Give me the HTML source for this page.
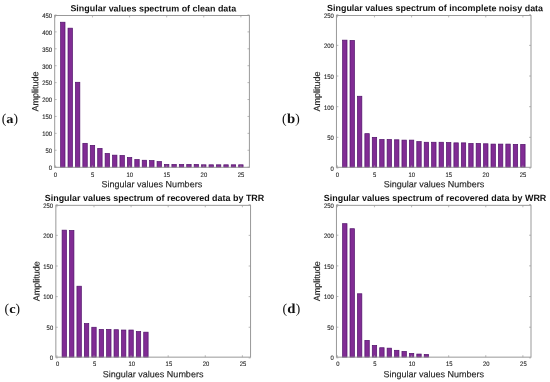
<!DOCTYPE html><html><head><meta charset="utf-8"><title>Singular values spectrum</title><style>html,body{margin:0;padding:0;background:#fff}svg{display:block}text{font-family:"Liberation Sans",Arial,sans-serif;text-rendering:geometricPrecision}.t{font-weight:bold;font-size:8.95px;fill:#111}.l{font-size:9.0px;fill:#262626;stroke:#262626;stroke-width:0.15px}.k{font-size:6.4px;fill:#262626;stroke:#262626;stroke-width:0.12px}.s{font-family:"Liberation Serif","DejaVu Serif",serif;font-size:12.5px;fill:#111}</style></head><body>
<svg width="550" height="382" viewBox="0 0 550 382">
<rect width="550" height="382" fill="#fff"/>
<rect x="60.60" y="22.22" width="4.40" height="145.08" fill="#812c94" stroke="#50126a" stroke-width="0.7"/>
<rect x="68.02" y="28.17" width="4.40" height="139.13" fill="#812c94" stroke="#50126a" stroke-width="0.7"/>
<rect x="75.44" y="82.28" width="4.40" height="85.02" fill="#812c94" stroke="#50126a" stroke-width="0.7"/>
<rect x="82.86" y="143.33" width="4.40" height="23.97" fill="#812c94" stroke="#50126a" stroke-width="0.7"/>
<rect x="90.28" y="145.36" width="4.40" height="21.94" fill="#812c94" stroke="#50126a" stroke-width="0.7"/>
<rect x="97.70" y="148.40" width="4.40" height="18.90" fill="#812c94" stroke="#50126a" stroke-width="0.7"/>
<rect x="105.12" y="153.47" width="4.40" height="13.83" fill="#812c94" stroke="#50126a" stroke-width="0.7"/>
<rect x="112.54" y="155.16" width="4.40" height="12.14" fill="#812c94" stroke="#50126a" stroke-width="0.7"/>
<rect x="119.96" y="155.50" width="4.40" height="11.80" fill="#812c94" stroke="#50126a" stroke-width="0.7"/>
<rect x="127.38" y="157.53" width="4.40" height="9.77" fill="#812c94" stroke="#50126a" stroke-width="0.7"/>
<rect x="134.80" y="159.56" width="4.40" height="7.74" fill="#812c94" stroke="#50126a" stroke-width="0.7"/>
<rect x="142.22" y="160.24" width="4.40" height="7.06" fill="#812c94" stroke="#50126a" stroke-width="0.7"/>
<rect x="149.64" y="160.58" width="4.40" height="6.72" fill="#812c94" stroke="#50126a" stroke-width="0.7"/>
<rect x="157.06" y="161.59" width="4.40" height="5.71" fill="#812c94" stroke="#50126a" stroke-width="0.7"/>
<rect x="164.48" y="164.46" width="4.40" height="2.84" fill="#812c94" stroke="#50126a" stroke-width="0.7"/>
<rect x="171.90" y="164.46" width="4.40" height="2.84" fill="#812c94" stroke="#50126a" stroke-width="0.7"/>
<rect x="179.32" y="164.46" width="4.40" height="2.84" fill="#812c94" stroke="#50126a" stroke-width="0.7"/>
<rect x="186.74" y="164.46" width="4.40" height="2.84" fill="#812c94" stroke="#50126a" stroke-width="0.7"/>
<rect x="194.16" y="164.46" width="4.40" height="2.84" fill="#812c94" stroke="#50126a" stroke-width="0.7"/>
<rect x="201.58" y="164.80" width="4.40" height="2.50" fill="#812c94" stroke="#50126a" stroke-width="0.7"/>
<rect x="209.00" y="164.80" width="4.40" height="2.50" fill="#812c94" stroke="#50126a" stroke-width="0.7"/>
<rect x="216.42" y="164.80" width="4.40" height="2.50" fill="#812c94" stroke="#50126a" stroke-width="0.7"/>
<rect x="223.84" y="164.80" width="4.40" height="2.50" fill="#812c94" stroke="#50126a" stroke-width="0.7"/>
<rect x="231.26" y="164.80" width="4.40" height="2.50" fill="#812c94" stroke="#50126a" stroke-width="0.7"/>
<rect x="238.68" y="164.80" width="4.40" height="2.50" fill="#812c94" stroke="#50126a" stroke-width="0.7"/>
<rect x="54.70" y="15.50" width="194.70" height="151.80" fill="none" stroke="#999" stroke-width="1"/>
<path d="M55.38 167.30v-1.9M55.38 15.50v1.9" stroke="#999" stroke-width="0.7"/>
<text class="k" transform="translate(55.48 176.60) rotate(0.03) scale(0.92 1)" text-anchor="middle">0</text>
<path d="M92.48 167.30v-1.9M92.48 15.50v1.9" stroke="#999" stroke-width="0.7"/>
<text class="k" transform="translate(92.58 176.60) rotate(0.03) scale(0.92 1)" text-anchor="middle">5</text>
<path d="M129.58 167.30v-1.9M129.58 15.50v1.9" stroke="#999" stroke-width="0.7"/>
<text class="k" transform="translate(129.68 176.60) rotate(0.03) scale(0.92 1)" text-anchor="middle">10</text>
<path d="M166.68 167.30v-1.9M166.68 15.50v1.9" stroke="#999" stroke-width="0.7"/>
<text class="k" transform="translate(166.78 176.60) rotate(0.03) scale(0.92 1)" text-anchor="middle">15</text>
<path d="M203.78 167.30v-1.9M203.78 15.50v1.9" stroke="#999" stroke-width="0.7"/>
<text class="k" transform="translate(203.88 176.60) rotate(0.03) scale(0.92 1)" text-anchor="middle">20</text>
<path d="M240.88 167.30v-1.9M240.88 15.50v1.9" stroke="#999" stroke-width="0.7"/>
<text class="k" transform="translate(240.98 176.60) rotate(0.03) scale(0.92 1)" text-anchor="middle">25</text>
<path d="M54.70 167.17h1.9M249.40 167.17h-1.9" stroke="#999" stroke-width="0.7"/>
<text class="k" transform="translate(52.00 170.02) rotate(0.03) scale(0.92 1)" text-anchor="end">0</text>
<path d="M54.70 150.26h1.9M249.40 150.26h-1.9" stroke="#999" stroke-width="0.7"/>
<text class="k" transform="translate(52.00 153.11) rotate(0.03) scale(0.92 1)" text-anchor="end">50</text>
<path d="M54.70 133.35h1.9M249.40 133.35h-1.9" stroke="#999" stroke-width="0.7"/>
<text class="k" transform="translate(52.00 136.20) rotate(0.03) scale(0.92 1)" text-anchor="end">100</text>
<path d="M54.70 116.44h1.9M249.40 116.44h-1.9" stroke="#999" stroke-width="0.7"/>
<text class="k" transform="translate(52.00 119.29) rotate(0.03) scale(0.92 1)" text-anchor="end">150</text>
<path d="M54.70 99.53h1.9M249.40 99.53h-1.9" stroke="#999" stroke-width="0.7"/>
<text class="k" transform="translate(52.00 102.38) rotate(0.03) scale(0.92 1)" text-anchor="end">200</text>
<path d="M54.70 82.62h1.9M249.40 82.62h-1.9" stroke="#999" stroke-width="0.7"/>
<text class="k" transform="translate(52.00 85.47) rotate(0.03) scale(0.92 1)" text-anchor="end">250</text>
<path d="M54.70 65.71h1.9M249.40 65.71h-1.9" stroke="#999" stroke-width="0.7"/>
<text class="k" transform="translate(52.00 68.56) rotate(0.03) scale(0.92 1)" text-anchor="end">300</text>
<path d="M54.70 48.80h1.9M249.40 48.80h-1.9" stroke="#999" stroke-width="0.7"/>
<text class="k" transform="translate(52.00 51.65) rotate(0.03) scale(0.92 1)" text-anchor="end">350</text>
<path d="M54.70 31.89h1.9M249.40 31.89h-1.9" stroke="#999" stroke-width="0.7"/>
<text class="k" transform="translate(52.00 34.74) rotate(0.03) scale(0.92 1)" text-anchor="end">400</text>
<path d="M54.70 14.98h1.9M249.40 14.98h-1.9" stroke="#999" stroke-width="0.7"/>
<text class="k" transform="translate(52.00 18.25) rotate(0.03) scale(0.92 1)" text-anchor="end">450</text>
<text class="t" transform="translate(153.35 11.40) rotate(0.03)" text-anchor="middle">Singular values spectrum of clean data</text>
<text class="l" transform="translate(151.85 187.20) rotate(0.03)" text-anchor="middle">Singular values Numbers</text>
<text class="l" transform="translate(38.30 91.40) rotate(-90.03)" text-anchor="middle">Amplitude</text>
<text class="s" style="font-size:13.6px" x="3.96" y="122.65" text-anchor="middle">(</text>
<text class="s" style="font-weight:bold" transform="translate(9.96 122.80) scale(1.15 1.0)" text-anchor="middle">a</text>
<text class="s" style="font-size:13.6px" x="15.68" y="122.65" text-anchor="middle">)</text>
<rect x="342.60" y="40.15" width="4.40" height="127.15" fill="#812c94" stroke="#50126a" stroke-width="0.7"/>
<rect x="350.02" y="40.45" width="4.40" height="126.85" fill="#812c94" stroke="#50126a" stroke-width="0.7"/>
<rect x="357.44" y="96.26" width="4.40" height="71.04" fill="#812c94" stroke="#50126a" stroke-width="0.7"/>
<rect x="364.86" y="133.66" width="4.40" height="33.64" fill="#812c94" stroke="#50126a" stroke-width="0.7"/>
<rect x="372.28" y="137.34" width="4.40" height="29.96" fill="#812c94" stroke="#50126a" stroke-width="0.7"/>
<rect x="379.70" y="139.49" width="4.40" height="27.81" fill="#812c94" stroke="#50126a" stroke-width="0.7"/>
<rect x="387.12" y="139.49" width="4.40" height="27.81" fill="#812c94" stroke="#50126a" stroke-width="0.7"/>
<rect x="394.54" y="139.79" width="4.40" height="27.51" fill="#812c94" stroke="#50126a" stroke-width="0.7"/>
<rect x="401.96" y="140.10" width="4.40" height="27.20" fill="#812c94" stroke="#50126a" stroke-width="0.7"/>
<rect x="409.38" y="140.10" width="4.40" height="27.20" fill="#812c94" stroke="#50126a" stroke-width="0.7"/>
<rect x="416.80" y="141.63" width="4.40" height="25.67" fill="#812c94" stroke="#50126a" stroke-width="0.7"/>
<rect x="424.22" y="142.25" width="4.40" height="25.05" fill="#812c94" stroke="#50126a" stroke-width="0.7"/>
<rect x="431.64" y="142.25" width="4.40" height="25.05" fill="#812c94" stroke="#50126a" stroke-width="0.7"/>
<rect x="439.06" y="142.25" width="4.40" height="25.05" fill="#812c94" stroke="#50126a" stroke-width="0.7"/>
<rect x="446.48" y="142.55" width="4.40" height="24.75" fill="#812c94" stroke="#50126a" stroke-width="0.7"/>
<rect x="453.90" y="142.86" width="4.40" height="24.44" fill="#812c94" stroke="#50126a" stroke-width="0.7"/>
<rect x="461.32" y="142.86" width="4.40" height="24.44" fill="#812c94" stroke="#50126a" stroke-width="0.7"/>
<rect x="468.74" y="143.47" width="4.40" height="23.83" fill="#812c94" stroke="#50126a" stroke-width="0.7"/>
<rect x="476.16" y="143.47" width="4.40" height="23.83" fill="#812c94" stroke="#50126a" stroke-width="0.7"/>
<rect x="483.58" y="143.78" width="4.40" height="23.52" fill="#812c94" stroke="#50126a" stroke-width="0.7"/>
<rect x="491.00" y="144.09" width="4.40" height="23.21" fill="#812c94" stroke="#50126a" stroke-width="0.7"/>
<rect x="498.42" y="144.09" width="4.40" height="23.21" fill="#812c94" stroke="#50126a" stroke-width="0.7"/>
<rect x="505.84" y="144.09" width="4.40" height="23.21" fill="#812c94" stroke="#50126a" stroke-width="0.7"/>
<rect x="513.26" y="144.39" width="4.40" height="22.91" fill="#812c94" stroke="#50126a" stroke-width="0.7"/>
<rect x="520.68" y="144.39" width="4.40" height="22.91" fill="#812c94" stroke="#50126a" stroke-width="0.7"/>
<rect x="336.45" y="15.50" width="194.55" height="151.80" fill="none" stroke="#999" stroke-width="1"/>
<path d="M337.38 167.30v-1.9M337.38 15.50v1.9" stroke="#999" stroke-width="0.7"/>
<text class="k" transform="translate(337.48 176.60) rotate(0.03) scale(0.92 1)" text-anchor="middle">0</text>
<path d="M374.48 167.30v-1.9M374.48 15.50v1.9" stroke="#999" stroke-width="0.7"/>
<text class="k" transform="translate(374.58 176.60) rotate(0.03) scale(0.92 1)" text-anchor="middle">5</text>
<path d="M411.58 167.30v-1.9M411.58 15.50v1.9" stroke="#999" stroke-width="0.7"/>
<text class="k" transform="translate(411.68 176.60) rotate(0.03) scale(0.92 1)" text-anchor="middle">10</text>
<path d="M448.68 167.30v-1.9M448.68 15.50v1.9" stroke="#999" stroke-width="0.7"/>
<text class="k" transform="translate(448.78 176.60) rotate(0.03) scale(0.92 1)" text-anchor="middle">15</text>
<path d="M485.78 167.30v-1.9M485.78 15.50v1.9" stroke="#999" stroke-width="0.7"/>
<text class="k" transform="translate(485.88 176.60) rotate(0.03) scale(0.92 1)" text-anchor="middle">20</text>
<path d="M522.88 167.30v-1.9M522.88 15.50v1.9" stroke="#999" stroke-width="0.7"/>
<text class="k" transform="translate(522.98 176.60) rotate(0.03) scale(0.92 1)" text-anchor="middle">25</text>
<path d="M336.45 168.00h1.9M531.00 168.00h-1.9" stroke="#999" stroke-width="0.7"/>
<text class="k" transform="translate(333.75 170.65) rotate(0.03) scale(0.92 1)" text-anchor="end">0</text>
<path d="M336.45 137.34h1.9M531.00 137.34h-1.9" stroke="#999" stroke-width="0.7"/>
<text class="k" transform="translate(333.75 140.19) rotate(0.03) scale(0.92 1)" text-anchor="end">50</text>
<path d="M336.45 106.68h1.9M531.00 106.68h-1.9" stroke="#999" stroke-width="0.7"/>
<text class="k" transform="translate(333.75 109.53) rotate(0.03) scale(0.92 1)" text-anchor="end">100</text>
<path d="M336.45 76.02h1.9M531.00 76.02h-1.9" stroke="#999" stroke-width="0.7"/>
<text class="k" transform="translate(333.75 78.87) rotate(0.03) scale(0.92 1)" text-anchor="end">150</text>
<path d="M336.45 45.36h1.9M531.00 45.36h-1.9" stroke="#999" stroke-width="0.7"/>
<text class="k" transform="translate(333.75 48.21) rotate(0.03) scale(0.92 1)" text-anchor="end">200</text>
<path d="M336.45 14.70h1.9M531.00 14.70h-1.9" stroke="#999" stroke-width="0.7"/>
<text class="k" transform="translate(333.75 18.25) rotate(0.03) scale(0.92 1)" text-anchor="end">250</text>
<text class="t" transform="translate(435.03 11.10) rotate(0.03)" text-anchor="middle">Singular values spectrum of incomplete noisy data</text>
<text class="l" transform="translate(433.93 187.20) rotate(0.03)" text-anchor="middle">Singular values Numbers</text>
<text class="l" transform="translate(320.05 91.40) rotate(-90.03)" text-anchor="middle">Amplitude</text>
<text class="s" style="font-size:13.6px" x="284.32" y="122.65" text-anchor="middle">(</text>
<text class="s" style="font-weight:bold" transform="translate(291.00 122.80) scale(1.18 1.1)" text-anchor="middle">b</text>
<text class="s" style="font-size:13.6px" x="297.55" y="122.65" text-anchor="middle">)</text>
<rect x="62.10" y="230.15" width="4.40" height="127.00" fill="#812c94" stroke="#50126a" stroke-width="0.7"/>
<rect x="69.52" y="230.46" width="4.40" height="126.69" fill="#812c94" stroke="#50126a" stroke-width="0.7"/>
<rect x="76.94" y="286.21" width="4.40" height="70.94" fill="#812c94" stroke="#50126a" stroke-width="0.7"/>
<rect x="84.36" y="323.59" width="4.40" height="33.56" fill="#812c94" stroke="#50126a" stroke-width="0.7"/>
<rect x="91.78" y="327.26" width="4.40" height="29.88" fill="#812c94" stroke="#50126a" stroke-width="0.7"/>
<rect x="99.20" y="329.41" width="4.40" height="27.74" fill="#812c94" stroke="#50126a" stroke-width="0.7"/>
<rect x="106.62" y="329.41" width="4.40" height="27.74" fill="#812c94" stroke="#50126a" stroke-width="0.7"/>
<rect x="114.04" y="329.72" width="4.40" height="27.43" fill="#812c94" stroke="#50126a" stroke-width="0.7"/>
<rect x="121.46" y="330.02" width="4.40" height="27.13" fill="#812c94" stroke="#50126a" stroke-width="0.7"/>
<rect x="128.88" y="330.02" width="4.40" height="27.13" fill="#812c94" stroke="#50126a" stroke-width="0.7"/>
<rect x="136.30" y="331.55" width="4.40" height="25.60" fill="#812c94" stroke="#50126a" stroke-width="0.7"/>
<rect x="143.72" y="332.17" width="4.40" height="24.98" fill="#812c94" stroke="#50126a" stroke-width="0.7"/>
<rect x="55.85" y="205.35" width="194.70" height="151.80" fill="none" stroke="#999" stroke-width="1"/>
<path d="M56.88 357.15v-1.9M56.88 205.35v1.9" stroke="#999" stroke-width="0.7"/>
<text class="k" transform="translate(57.58 365.75) rotate(0.03) scale(0.92 1)" text-anchor="middle">0</text>
<path d="M93.98 357.15v-1.9M93.98 205.35v1.9" stroke="#999" stroke-width="0.7"/>
<text class="k" transform="translate(94.68 365.75) rotate(0.03) scale(0.92 1)" text-anchor="middle">5</text>
<path d="M131.08 357.15v-1.9M131.08 205.35v1.9" stroke="#999" stroke-width="0.7"/>
<text class="k" transform="translate(131.78 365.75) rotate(0.03) scale(0.92 1)" text-anchor="middle">10</text>
<path d="M168.18 357.15v-1.9M168.18 205.35v1.9" stroke="#999" stroke-width="0.7"/>
<text class="k" transform="translate(168.88 365.75) rotate(0.03) scale(0.92 1)" text-anchor="middle">15</text>
<path d="M205.28 357.15v-1.9M205.28 205.35v1.9" stroke="#999" stroke-width="0.7"/>
<text class="k" transform="translate(205.98 365.75) rotate(0.03) scale(0.92 1)" text-anchor="middle">20</text>
<path d="M242.38 357.15v-1.9M242.38 205.35v1.9" stroke="#999" stroke-width="0.7"/>
<text class="k" transform="translate(243.08 365.75) rotate(0.03) scale(0.92 1)" text-anchor="middle">25</text>
<path d="M55.85 357.90h1.9M250.55 357.90h-1.9" stroke="#999" stroke-width="0.7"/>
<text class="k" transform="translate(53.15 360.50) rotate(0.03) scale(0.92 1)" text-anchor="end">0</text>
<path d="M55.85 327.26h1.9M250.55 327.26h-1.9" stroke="#999" stroke-width="0.7"/>
<text class="k" transform="translate(53.15 330.12) rotate(0.03) scale(0.92 1)" text-anchor="end">50</text>
<path d="M55.85 296.63h1.9M250.55 296.63h-1.9" stroke="#999" stroke-width="0.7"/>
<text class="k" transform="translate(53.15 299.48) rotate(0.03) scale(0.92 1)" text-anchor="end">100</text>
<path d="M55.85 266.00h1.9M250.55 266.00h-1.9" stroke="#999" stroke-width="0.7"/>
<text class="k" transform="translate(53.15 268.85) rotate(0.03) scale(0.92 1)" text-anchor="end">150</text>
<path d="M55.85 235.36h1.9M250.55 235.36h-1.9" stroke="#999" stroke-width="0.7"/>
<text class="k" transform="translate(53.15 238.21) rotate(0.03) scale(0.92 1)" text-anchor="end">200</text>
<path d="M55.85 204.72h1.9M250.55 204.72h-1.9" stroke="#999" stroke-width="0.7"/>
<text class="k" transform="translate(53.15 208.10) rotate(0.03) scale(0.92 1)" text-anchor="end">250</text>
<text class="t" transform="translate(154.50 200.95) rotate(0.03)" text-anchor="middle">Singular values spectrum of recovered data by TRR</text>
<text class="l" transform="translate(153.10 377.25) rotate(0.03)" text-anchor="middle">Singular values Numbers</text>
<text class="l" transform="translate(39.45 281.25) rotate(-90.03)" text-anchor="middle">Amplitude</text>
<text class="s" style="font-size:13.6px" x="6.82" y="312.65" text-anchor="middle">(</text>
<text class="s" style="font-weight:bold" transform="translate(12.36 312.80) scale(1.15 1.0)" text-anchor="middle">c</text>
<text class="s" style="font-size:13.6px" x="17.65" y="312.65" text-anchor="middle">)</text>
<rect x="342.60" y="223.68" width="4.40" height="133.47" fill="#812c94" stroke="#50126a" stroke-width="0.7"/>
<rect x="350.02" y="228.71" width="4.40" height="128.44" fill="#812c94" stroke="#50126a" stroke-width="0.7"/>
<rect x="357.44" y="293.77" width="4.40" height="63.38" fill="#812c94" stroke="#50126a" stroke-width="0.7"/>
<rect x="364.86" y="340.37" width="4.40" height="16.78" fill="#812c94" stroke="#50126a" stroke-width="0.7"/>
<rect x="372.28" y="345.40" width="4.40" height="11.75" fill="#812c94" stroke="#50126a" stroke-width="0.7"/>
<rect x="379.70" y="347.73" width="4.40" height="9.42" fill="#812c94" stroke="#50126a" stroke-width="0.7"/>
<rect x="387.12" y="348.16" width="4.40" height="8.99" fill="#812c94" stroke="#50126a" stroke-width="0.7"/>
<rect x="394.54" y="350.31" width="4.40" height="6.84" fill="#812c94" stroke="#50126a" stroke-width="0.7"/>
<rect x="401.96" y="351.41" width="4.40" height="5.74" fill="#812c94" stroke="#50126a" stroke-width="0.7"/>
<rect x="409.38" y="353.37" width="4.40" height="3.78" fill="#812c94" stroke="#50126a" stroke-width="0.7"/>
<rect x="416.80" y="354.05" width="4.40" height="3.10" fill="#812c94" stroke="#50126a" stroke-width="0.7"/>
<rect x="424.22" y="354.48" width="4.40" height="2.67" fill="#812c94" stroke="#50126a" stroke-width="0.7"/>
<rect x="336.45" y="205.35" width="194.55" height="151.80" fill="none" stroke="#999" stroke-width="1"/>
<path d="M337.38 357.15v-1.9M337.38 205.35v1.9" stroke="#999" stroke-width="0.7"/>
<text class="k" transform="translate(337.88 365.75) rotate(0.03) scale(0.92 1)" text-anchor="middle">0</text>
<path d="M374.48 357.15v-1.9M374.48 205.35v1.9" stroke="#999" stroke-width="0.7"/>
<text class="k" transform="translate(374.98 365.75) rotate(0.03) scale(0.92 1)" text-anchor="middle">5</text>
<path d="M411.58 357.15v-1.9M411.58 205.35v1.9" stroke="#999" stroke-width="0.7"/>
<text class="k" transform="translate(412.08 365.75) rotate(0.03) scale(0.92 1)" text-anchor="middle">10</text>
<path d="M448.68 357.15v-1.9M448.68 205.35v1.9" stroke="#999" stroke-width="0.7"/>
<text class="k" transform="translate(449.18 365.75) rotate(0.03) scale(0.92 1)" text-anchor="middle">15</text>
<path d="M485.78 357.15v-1.9M485.78 205.35v1.9" stroke="#999" stroke-width="0.7"/>
<text class="k" transform="translate(486.28 365.75) rotate(0.03) scale(0.92 1)" text-anchor="middle">20</text>
<path d="M522.88 357.15v-1.9M522.88 205.35v1.9" stroke="#999" stroke-width="0.7"/>
<text class="k" transform="translate(523.38 365.75) rotate(0.03) scale(0.92 1)" text-anchor="middle">25</text>
<path d="M336.45 357.85h1.9M531.00 357.85h-1.9" stroke="#999" stroke-width="0.7"/>
<text class="k" transform="translate(333.75 360.50) rotate(0.03) scale(0.92 1)" text-anchor="end">0</text>
<path d="M336.45 327.19h1.9M531.00 327.19h-1.9" stroke="#999" stroke-width="0.7"/>
<text class="k" transform="translate(333.75 330.04) rotate(0.03) scale(0.92 1)" text-anchor="end">50</text>
<path d="M336.45 296.53h1.9M531.00 296.53h-1.9" stroke="#999" stroke-width="0.7"/>
<text class="k" transform="translate(333.75 299.38) rotate(0.03) scale(0.92 1)" text-anchor="end">100</text>
<path d="M336.45 265.87h1.9M531.00 265.87h-1.9" stroke="#999" stroke-width="0.7"/>
<text class="k" transform="translate(333.75 268.72) rotate(0.03) scale(0.92 1)" text-anchor="end">150</text>
<path d="M336.45 235.21h1.9M531.00 235.21h-1.9" stroke="#999" stroke-width="0.7"/>
<text class="k" transform="translate(333.75 238.06) rotate(0.03) scale(0.92 1)" text-anchor="end">200</text>
<path d="M336.45 204.55h1.9M531.00 204.55h-1.9" stroke="#999" stroke-width="0.7"/>
<text class="k" transform="translate(333.75 208.10) rotate(0.03) scale(0.92 1)" text-anchor="end">250</text>
<text class="t" transform="translate(435.03 200.95) rotate(0.03)" text-anchor="middle">Singular values spectrum of recovered data by WRR</text>
<text class="l" transform="translate(433.73 377.25) rotate(0.03)" text-anchor="middle">Singular values Numbers</text>
<text class="l" transform="translate(320.05 281.25) rotate(-90.03)" text-anchor="middle">Amplitude</text>
<text class="s" style="font-size:13.6px" x="284.87" y="312.65" text-anchor="middle">(</text>
<text class="s" style="font-weight:bold" transform="translate(291.41 312.80) scale(1.18 1.1)" text-anchor="middle">d</text>
<text class="s" style="font-size:13.6px" x="297.96" y="312.65" text-anchor="middle">)</text>
</svg></body></html>
